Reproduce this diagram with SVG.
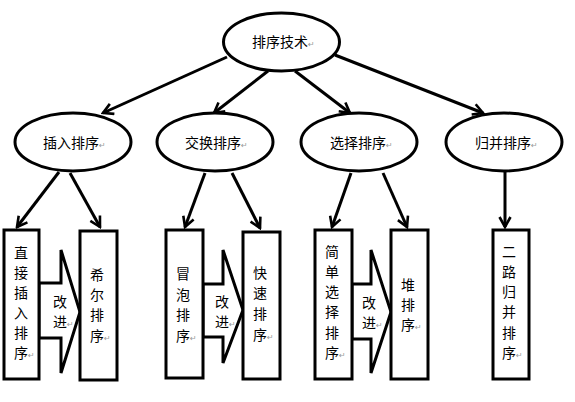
<svg xmlns="http://www.w3.org/2000/svg" width="575" height="402" viewBox="0 0 575 402">
<style>
.sh{fill:#fff;stroke:#000;stroke-width:3}
.ln{stroke:#000;stroke-width:3;fill:none}
.t{font-family:"Noto Sans CJK SC","Noto Sans CJK JP",sans-serif;font-size:14px;fill:#000}
.tv{font-family:"Noto Sans CJK SC","Noto Sans CJK JP",sans-serif;font-size:14px;fill:#000;text-anchor:middle}
.pm{font-family:"DejaVu Sans",sans-serif;font-size:8px;fill:#999}
</style>
<defs>
<marker id="ah" markerUnits="userSpaceOnUse" viewBox="0 0 14 14" refX="12" refY="7" markerWidth="14" markerHeight="14" orient="auto">
<path d="M2,1.5 L12,7 L2,12.5" fill="none" stroke="#000" stroke-width="2.6"/>
</marker>
</defs>
<rect width="575" height="402" fill="#fff"/>
<g id="connectors">
<line class="ln" x1="227" y1="57" x2="103" y2="113" marker-end="url(#ah)"/>
<line class="ln" x1="268" y1="71" x2="214" y2="113" marker-end="url(#ah)"/>
<line class="ln" x1="295" y1="71" x2="350" y2="113" marker-end="url(#ah)"/>
<line class="ln" x1="335" y1="55" x2="483" y2="113" marker-end="url(#ah)"/>
<line class="ln" x1="59" y1="172" x2="17" y2="227" marker-end="url(#ah)"/>
<line class="ln" x1="70" y1="173" x2="100" y2="227" marker-end="url(#ah)"/>
<line class="ln" x1="205" y1="173" x2="185" y2="227" marker-end="url(#ah)"/>
<line class="ln" x1="232" y1="173" x2="260" y2="228" marker-end="url(#ah)"/>
<line class="ln" x1="351" y1="173" x2="332" y2="227" marker-end="url(#ah)"/>
<line class="ln" x1="383" y1="173" x2="407" y2="227" marker-end="url(#ah)"/>
<line class="ln" x1="505" y1="172" x2="505" y2="227" marker-end="url(#ah)"/>
</g>
<g id="root">
<ellipse class="sh" cx="281.5" cy="42" rx="58" ry="29"/>
<text class="t" x="252" y="47">排序技术<tspan class="pm">↵</tspan></text>
</g>
<g id="insert">
<ellipse class="sh" cx="73" cy="142" rx="58" ry="29"/>
<text class="t" x="43" y="148">插入排序<tspan class="pm">↵</tspan></text>
</g>
<g id="exchange">
<ellipse class="sh" cx="215" cy="142" rx="58" ry="29"/>
<text class="t" x="185" y="148">交换排序<tspan class="pm">↵</tspan></text>
</g>
<g id="select">
<ellipse class="sh" cx="359" cy="142" rx="58" ry="29"/>
<text class="t" x="330" y="148">选择排序<tspan class="pm">↵</tspan></text>
</g>
<g id="merge">
<ellipse class="sh" cx="504" cy="142" rx="58" ry="29"/>
<text class="t" x="475" y="148">归并排序<tspan class="pm">↵</tspan></text>
</g>
<g id="improve1">
<polygon class="sh" points="39,283 61,283 61,250 80,312 61,373 61,338 39,338"/>
<text class="tv" x="60" y="307">改</text>
<text class="t" x="53" y="327">进<tspan class="pm">↵</tspan></text>
</g>
<g id="improve2">
<polygon class="sh" points="203,284 223,284 223,250 243,310 223,363 223,337 203,337"/>
<text class="tv" x="222" y="307">改</text>
<text class="t" x="215" y="327">进<tspan class="pm">↵</tspan></text>
</g>
<g id="improve3">
<polygon class="sh" points="352,284 371,284 371,250 391,312 371,373 371,339 352,339"/>
<text class="tv" x="369" y="308">改</text>
<text class="t" x="362" y="328">进<tspan class="pm">↵</tspan></text>
</g>
<g id="direct-insert">
<rect class="sh" x="4" y="230" width="35" height="149"/>
<text class="tv" x="21" y="258">直</text>
<text class="tv" x="21" y="278">接</text>
<text class="tv" x="21" y="298">插</text>
<text class="tv" x="21" y="318">入</text>
<text class="tv" x="21" y="338">排</text>
<text class="t" x="14" y="358">序<tspan class="pm">↵</tspan></text>
</g>
<g id="shell">
<rect class="sh" x="80" y="231" width="37" height="149"/>
<text class="tv" x="97" y="280">希</text>
<text class="tv" x="97" y="300">尔</text>
<text class="tv" x="97" y="320">排</text>
<text class="t" x="90" y="341">序<tspan class="pm">↵</tspan></text>
</g>
<g id="bubble">
<rect class="sh" x="166" y="230" width="37" height="148"/>
<text class="tv" x="183" y="279">冒</text>
<text class="tv" x="183" y="300">泡</text>
<text class="tv" x="183" y="320">排</text>
<text class="t" x="176" y="341">序<tspan class="pm">↵</tspan></text>
</g>
<g id="quick">
<rect class="sh" x="243" y="232" width="37" height="147"/>
<text class="tv" x="260" y="278">快</text>
<text class="tv" x="260" y="298">速</text>
<text class="tv" x="260" y="319">排</text>
<text class="t" x="253" y="340">序<tspan class="pm">↵</tspan></text>
</g>
<g id="simple-select">
<rect class="sh" x="315" y="230" width="37" height="149"/>
<text class="tv" x="332" y="257">简</text>
<text class="tv" x="332" y="277">单</text>
<text class="tv" x="332" y="297">选</text>
<text class="tv" x="332" y="317">择</text>
<text class="tv" x="332" y="338">排</text>
<text class="t" x="325" y="358">序<tspan class="pm">↵</tspan></text>
</g>
<g id="heap">
<rect class="sh" x="391" y="230" width="37" height="149"/>
<text class="tv" x="408" y="290">堆</text>
<text class="tv" x="408" y="310">排</text>
<text class="t" x="401" y="330">序<tspan class="pm">↵</tspan></text>
</g>
<g id="two-way-merge">
<rect class="sh" x="493" y="230" width="36" height="149"/>
<text class="tv" x="509" y="257">二</text>
<text class="tv" x="509" y="277">路</text>
<text class="tv" x="509" y="297">归</text>
<text class="tv" x="509" y="317">并</text>
<text class="tv" x="509" y="338">排</text>
<text class="t" x="502" y="358">序<tspan class="pm">↵</tspan></text>
</g>
</svg>
